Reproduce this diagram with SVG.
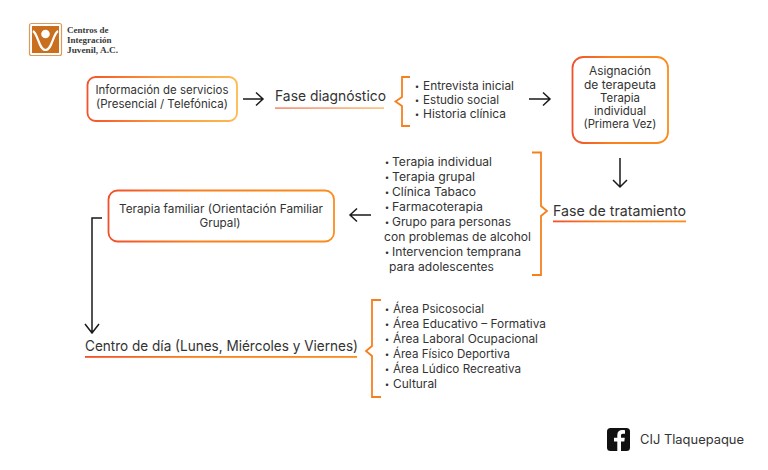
<svg xmlns="http://www.w3.org/2000/svg" width="768" height="470" viewBox="0 0 768 470">
<style>
text{font-family:"Inter","Noto Sans",sans-serif;fill:#333}
.s{font-size:11.500px}
.h{font-size:14.500px}
.c{text-anchor:middle}
.b{font-size:8px;text-anchor:middle}
.box{fill:#fff;stroke-width:1.8}
.brace{fill:none;stroke:#f5801e;stroke-width:1.8}
.con{fill:none;stroke:#1a1a1a;stroke-width:1.5}
.logo{font-family:"Liberation Serif",serif;font-size:9px;font-weight:bold;fill:#3a3a3a}
</style>
<defs>
<linearGradient id="g1"><stop offset="0" stop-color="#f4532a"/><stop offset=".5" stop-color="#fb9a3c"/><stop offset="1" stop-color="#fdb94e"/></linearGradient>
<linearGradient id="g2"><stop offset="0" stop-color="#f0512c"/><stop offset=".4" stop-color="#f9801f"/><stop offset="1" stop-color="#fb8c1c"/></linearGradient>
<linearGradient id="g3"><stop offset="0" stop-color="#f58a74"/><stop offset="1" stop-color="#fbc078"/></linearGradient>
</defs>

<g id="logo">
<rect x="29.500" y="23.500" width="32" height="32" rx="2" fill="#fff" stroke="#dc9a5c" stroke-width="1.200"/>
<rect x="32" y="26" width="27" height="27" fill="#c96f1d"/>
<circle cx="45.500" cy="34" r="4.300" fill="#fff"/>
<path d="M33 31C38 34 39 50 45.500 50C52 50 53 34 58 31" fill="none" stroke="#fff" stroke-width="2.200"/>
<text class="logo" x="67" y="33">Centros de</text>
<text class="logo" x="67" y="42.500">Integración</text>
<text class="logo" x="67" y="52.500" textLength="51" lengthAdjust="spacingAndGlyphs">Juvenil, A.C.</text>
</g>

<g id="connectors">
<path class="con" d="M243 99H263M256 92.500L263 99L256 105.500"/>
<path class="con" d="M529 99H550M543 92.500L550 99L543 105.500"/>
<path class="con" d="M620 158V187M613 180L620 187L627 180"/>
<path class="con" d="M371 215H350M357 208.500L350 215L357 221.500"/>
<path class="con" d="M102 218H92V333M85 324L92 333L99 324"/>
</g>

<g id="n-informacion">
<rect class="box" x="87.500" y="77" width="149.500" height="44" rx="8" stroke="url(#g1)"/>
<text class="s c" x="162" y="94" textLength="133" lengthAdjust="spacingAndGlyphs">Información de servicios</text>
<text class="s c" x="162" y="107.500" textLength="132" lengthAdjust="spacingAndGlyphs">(Presencial / Telefónica)</text>
</g>

<g id="n-fase-diagnostico">
<text class="h" x="275" y="101" textLength="111" lengthAdjust="spacingAndGlyphs">Fase diagnóstico</text>
<rect x="275" y="107.300" width="109" height="1.600" fill="url(#g3)"/>
</g>

<g id="n-lista-diagnostico">
<path class="brace" d="M410 77H402V97L395.500 101.500L402 106V126H410"/>
<text class="b" x="417" y="89">•</text><text class="s" x="423" y="90" textLength="91" lengthAdjust="spacingAndGlyphs">Entrevista inicial</text>
<text class="b" x="417" y="103">•</text><text class="s" x="423" y="104" textLength="76" lengthAdjust="spacingAndGlyphs">Estudio social</text>
<text class="b" x="417" y="117">•</text><text class="s" x="423" y="118" textLength="83" lengthAdjust="spacingAndGlyphs">Historia clínica</text>
</g>

<g id="n-asignacion">
<rect class="box" x="572.500" y="57" width="95.500" height="86" rx="11" stroke="url(#g2)"/>
<text class="s c" x="620" y="75" textLength="62" lengthAdjust="spacingAndGlyphs">Asignación</text>
<text class="s c" x="620" y="88.500" textLength="72" lengthAdjust="spacingAndGlyphs">de terapeuta</text>
<text class="s c" x="620" y="102" textLength="40" lengthAdjust="spacingAndGlyphs">Terapia</text>
<text class="s c" x="620" y="115" textLength="52" lengthAdjust="spacingAndGlyphs">individual</text>
<text class="s c" x="620" y="128" textLength="73" lengthAdjust="spacingAndGlyphs">(Primera Vez)</text>
</g>

<g id="n-fase-tratamiento">
<path class="brace" d="M532 152.500H541V206L547 211L541 216V275H532"/>
<text class="h" x="553" y="216" textLength="133" lengthAdjust="spacingAndGlyphs">Fase de tratamiento</text>
<rect x="553" y="220.500" width="133" height="1.800" fill="url(#g2)"/>
</g>

<g id="n-lista-tratamiento">
<text class="b" x="387" y="165">•</text><text class="s" x="392" y="166" textLength="100" lengthAdjust="spacingAndGlyphs">Terapia individual</text>
<text class="b" x="387" y="180">•</text><text class="s" x="392" y="181" textLength="83" lengthAdjust="spacingAndGlyphs">Terapia grupal</text>
<text class="b" x="387" y="195">•</text><text class="s" x="392" y="196" textLength="84" lengthAdjust="spacingAndGlyphs">Clínica Tabaco</text>
<text class="b" x="387" y="210">•</text><text class="s" x="392" y="211" textLength="91" lengthAdjust="spacingAndGlyphs">Farmacoterapia</text>
<text class="b" x="387" y="225">•</text><text class="s" x="392" y="226" textLength="119" lengthAdjust="spacingAndGlyphs">Grupo para personas</text>
<text class="s" x="384" y="241" textLength="147" lengthAdjust="spacingAndGlyphs">con problemas de alcohol</text>
<text class="b" x="387" y="255">•</text><text class="s" x="392" y="256" textLength="129" lengthAdjust="spacingAndGlyphs">Intervencion temprana</text>
<text class="s" x="389" y="271" textLength="105" lengthAdjust="spacingAndGlyphs">para adolescentes</text>
</g>

<g id="n-terapia-familiar">
<rect class="box" x="108.500" y="190.500" width="225.500" height="51" rx="9" stroke="url(#g2)"/>
<text class="s c" x="221" y="213" textLength="204" lengthAdjust="spacingAndGlyphs">Terapia familiar (Orientación Familiar</text>
<text class="s c" x="220" y="227" textLength="41" lengthAdjust="spacingAndGlyphs">Grupal)</text>
</g>

<g id="n-centro-dia">
<text class="h" x="85" y="351" textLength="273" lengthAdjust="spacingAndGlyphs">Centro de día (Lunes, Miércoles y Viernes)</text>
<rect x="85" y="356" width="272" height="1.800" fill="url(#g2)"/>
</g>

<g id="n-lista-centro">
<path class="brace" d="M381 300H372V346L366 351L372 356V397H381"/>
<text class="b" x="387" y="312">•</text><text class="s" x="393" y="313" textLength="91" lengthAdjust="spacingAndGlyphs">Área Psicosocial</text>
<text class="b" x="387" y="327">•</text><text class="s" x="393" y="328" textLength="153" lengthAdjust="spacingAndGlyphs">Área Educativo – Formativa</text>
<text class="b" x="387" y="342">•</text><text class="s" x="393" y="343" textLength="145" lengthAdjust="spacingAndGlyphs">Área Laboral Ocupacional</text>
<text class="b" x="387" y="357">•</text><text class="s" x="393" y="358" textLength="117" lengthAdjust="spacingAndGlyphs">Área Físico Deportiva</text>
<text class="b" x="387" y="372">•</text><text class="s" x="393" y="373" textLength="128" lengthAdjust="spacingAndGlyphs">Área Lúdico Recreativa</text>
<text class="b" x="387" y="387">•</text><text class="s" x="393" y="388" textLength="44" lengthAdjust="spacingAndGlyphs">Cultural</text>
</g>

<g id="facebook">
<rect x="607" y="428" width="23" height="23" rx="3.500" fill="#111"/>
<path d="M621 451V441.500H624.300L624.800 437.700H621V435.500C621 434.400 621.400 433.700 622.900 433.700H625V430.300C624.400 430.200 623.400 430.100 622.300 430.100C619.400 430.100 617.300 431.800 617.300 435V437.700H614V441.500H617.300V451Z" fill="#fff"/>
<text x="640" y="444" font-size="12.500" textLength="104" lengthAdjust="spacingAndGlyphs">CIJ Tlaquepaque</text>
</g>
</svg>
